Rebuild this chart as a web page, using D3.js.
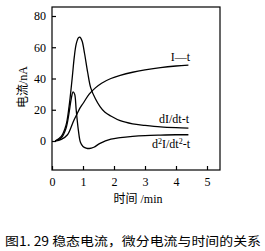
<!DOCTYPE html>
<html>
<head>
<meta charset="utf-8">
<script src="https://cdn.jsdelivr.net/npm/d3@7"></script>
<style>
body { margin: 0; background: #fff; }
text { fill: #000; }
</style>
</head>
<body>
<svg width="265" height="251"></svg>
<script>
// curves (t in min, current in nA)
var tI = [0.1, 0.3, 0.5, 0.6, 0.7, 0.8, 0.9, 1.0, 1.2, 1.4, 1.6, 1.9, 2.2, 2.6, 3.0, 3.5, 4.0, 4.4];
var vI = [0, 1, 4, 8, 13, 17, 21, 24, 30, 34, 37, 40, 42, 44, 45.5, 47, 48, 48.5];

var tD1 = [0.1, 0.3, 0.45, 0.55, 0.65, 0.72, 0.78, 0.85, 0.9, 0.97, 1.05, 1.15, 1.25, 1.4, 1.55, 1.7, 1.9, 2.2, 2.6, 3.0, 3.5, 4.0, 4.4];
var vD1 = [0, 3, 10, 22, 40, 54, 62, 66, 66.5, 64, 56, 44, 34, 27, 22, 18.5, 16, 13, 11, 10, 9, 8.5, 8.3];

var tD2 = [0.1, 0.3, 0.45, 0.55, 0.62, 0.68, 0.73, 0.78, 0.85, 0.92, 1.0, 1.1, 1.2, 1.35, 1.55, 1.9, 2.2, 2.6, 3.0, 3.5, 4.0, 4.4];
var vD2 = [0, 2, 8, 18, 27, 31.5, 30, 20, 7, -1, -3.5, -4.5, -4.8, -4, -1.5, 1.2, 2.2, 3, 3.5, 3.8, 4, 4];

var xTicks = [0, 1, 2, 3, 4, 5];
var yTicks = [0, 20, 40, 60, 80];

var svg = d3.select("svg");
var pl = 52, pr = 220, pt = 7, pb = 170;

var x = d3.scaleLinear().domain([0, 5]).range([52, 207]);
var y = d3.scaleLinear().domain([0, 80]).range([141, 16]);

var serif = "'Liberation Serif', 'Times New Roman', serif";
var cjk = "'Liberation Serif', 'Noto Sans CJK SC', serif";

// frame
svg.append("rect")
    .attr("x", pl).attr("y", pt)
    .attr("width", pr - pl).attr("height", pb - pt)
    .attr("fill", "none").attr("stroke", "#000").attr("stroke-width", 1.2);

// inward ticks
svg.append("g")
    .attr("transform", "translate(0," + pb + ")")
    .call(d3.axisBottom(x).tickValues(xTicks).tickFormat(d3.format("d"))
        .tickSizeInner(-4).tickSizeOuter(0).tickPadding(7))
    .call(g => g.select(".domain").remove())
    .call(g => g.selectAll("text").attr("font-family", serif).attr("font-size", 12));

svg.append("g")
    .attr("transform", "translate(" + pl + ",0)")
    .call(d3.axisLeft(y).tickValues(yTicks).tickSizeInner(-4).tickSizeOuter(0).tickPadding(6))
    .call(g => g.select(".domain").remove())
    .call(g => g.selectAll("text").attr("font-family", serif).attr("font-size", 12));

svg.selectAll(".tick line").attr("stroke", "#000").attr("stroke-width", 1.2);

var line = d3.line()
    .x(d => x(d[0])).y(d => y(d[1]))
    .curve(d3.curveCatmullRom.alpha(0.5));

[[tI, vI], [tD1, vD1], [tD2, vD2]].forEach(function(s){
    svg.append("path")
        .datum(s[0].map((t, i) => [t, s[1][i]]))
        .attr("d", line)
        .attr("fill", "none")
        .attr("stroke", "#000")
        .attr("stroke-width", 1.3);
});

// curve labels
var lab = svg.append("g").attr("font-family", serif).attr("font-size", 12).attr("text-anchor", "end");
lab.append("text").attr("x", 190).attr("y", 61).text("I\u2014t");
lab.append("text").attr("x", 189).attr("y", 123).text("dI/dt-t");
lab.append("text").attr("x", 190).attr("y", 148)
    .html("d<tspan font-size='8' dy='-4'>2</tspan><tspan dy='4'>I/dt</tspan><tspan font-size='8' dy='-4'>2</tspan><tspan dy='4'>-t</tspan>");

// axis titles
svg.append("text")
    .attr("x", 138).attr("y", 203)
    .attr("text-anchor", "middle")
    .attr("font-family", cjk).attr("font-size", 12)
    .text("时间 /min");

svg.append("text")
    .attr("transform", "translate(27,87) rotate(-90)")
    .attr("text-anchor", "middle")
    .attr("font-family", cjk).attr("font-size", 12)
    .text("电流/nA");

// caption
svg.append("text")
    .attr("x", 5).attr("y", 246)
    .attr("font-family", "'Noto Sans CJK SC', sans-serif").attr("font-size", 12.5)
    .attr("fill", "#111")
    .attr("textLength", 256).attr("lengthAdjust", "spacingAndGlyphs")
    .text("图1. 29 稳态电流，微分电流与时间的关系");
</script>
</body>
</html>
